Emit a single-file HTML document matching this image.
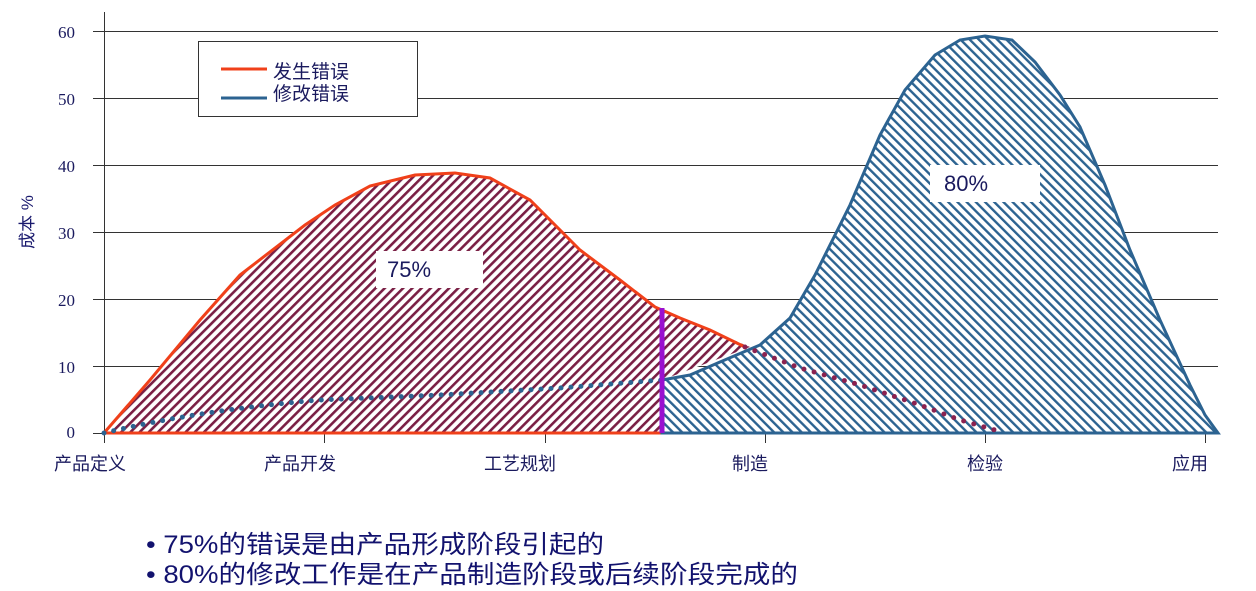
<!DOCTYPE html>
<html><head><meta charset="utf-8"><style>
html,body{margin:0;padding:0;background:#fff;width:1256px;height:591px;overflow:hidden}
text{font-family:"Liberation Sans","Noto Sans CJK SC",sans-serif}
</style></head><body>
<svg width="1256" height="591" viewBox="0 0 1256 591" xmlns="http://www.w3.org/2000/svg">
<defs>
<pattern id="hr" patternUnits="userSpaceOnUse" width="6.5" height="6.5" patternTransform="rotate(45)">
<rect width="6.5" height="6.5" fill="#fff"/><rect width="2.6" height="6.5" fill="#7a1f45"/></pattern>
<pattern id="hb" patternUnits="userSpaceOnUse" width="6.5" height="6.5" patternTransform="rotate(-45)">
<rect width="6.5" height="6.5" fill="#fff"/><rect width="2.4" height="6.5" fill="#2c6391"/></pattern>
</defs>
<g stroke="#333" stroke-width="1">
<line x1="93" y1="31.5" x2="1218" y2="31.5"/><line x1="93" y1="98.5" x2="1218" y2="98.5"/>
<line x1="93" y1="165.5" x2="1218" y2="165.5"/><line x1="93" y1="232.5" x2="1218" y2="232.5"/>
<line x1="93" y1="299.5" x2="1218" y2="299.5"/><line x1="93" y1="366.5" x2="1218" y2="366.5"/>
<line x1="93" y1="433.5" x2="1218" y2="433.5"/>
<line x1="104.5" y1="12" x2="104.5" y2="443"/>
<line x1="324.5" y1="433" x2="324.5" y2="443"/><line x1="545.5" y1="433" x2="545.5" y2="443"/>
<line x1="765.5" y1="433" x2="765.5" y2="443"/><line x1="985.5" y1="433" x2="985.5" y2="443"/><line x1="1205.5" y1="433" x2="1205.5" y2="443"/>
</g>
<g font-size="17" fill="#1a1a5e" text-anchor="end">
<text x="75" y="38" style="font-family:'Liberation Serif',serif">60</text><text x="75" y="105" style="font-family:'Liberation Serif',serif">50</text>
<text x="75" y="172" style="font-family:'Liberation Serif',serif">40</text><text x="75" y="239" style="font-family:'Liberation Serif',serif">30</text>
<text x="75" y="306" style="font-family:'Liberation Serif',serif">20</text><text x="75" y="373" style="font-family:'Liberation Serif',serif">10</text>
<text x="75" y="438" style="font-family:'Liberation Serif',serif">0</text>
</g>
<text transform="translate(33,222) rotate(-90)" text-anchor="middle" font-size="17" fill="#1a1a6e">成本 %</text>
<g font-size="18" fill="#1a1a5e" text-anchor="middle">
<text x="90" y="470">产品定义</text><text x="300" y="470">产品开发</text><text x="520" y="470">工艺规划</text>
<text x="750" y="470">制造</text><text x="985" y="470">检验</text><text x="1190" y="470">应用</text>
</g>
<path d="M104,433 L150,380 L200,320 L240,275 Q275,248 305,225 L335,205 L370,186 L415,175 L455,173 L490,178 L530,200 L580,250 L620,280 L655,307 L680,318 L710,330 L750,347 L662,380 L662,433 Z" fill="url(#hr)"/>
<path d="M104,433 L150,380 L200,320 L240,275 Q275,248 305,225 L335,205 L370,186 L415,175 L455,173 L490,178 L530,200 L580,250 L620,280 L655,307 L680,318 L710,330 L745,347" fill="none" stroke="#f0401a" stroke-width="3"/>
<line x1="104" y1="433" x2="662" y2="433" stroke="#f0401a" stroke-width="3"/>
<path d="M662,380 L690,375 L720,362 L760,345 L790,318 L815,275 L850,205 L880,135 L905,90 L935,55 L960,40 L985,36 L1012,40 L1035,62 L1060,95 L1080,127 L1105,185 L1130,250 L1160,320 L1190,385 L1205,415 L1218,433 L662,433 Z" fill="url(#hb)" stroke="#2c6391" stroke-width="3"/>
<path d="M104,433 Q200,410 320,400 L440,395 L560,388 L662,380" fill="none" stroke="#2c6391" stroke-width="5" stroke-linecap="round" stroke-dasharray="0 10"/>
<path d="M745,347 L800,368 L860,385 L920,405 L960,420 L995,430" fill="none" stroke="#8a2250" stroke-width="5" stroke-linecap="round" stroke-dasharray="0 10.5"/>
<line x1="662" y1="308" x2="662" y2="433" stroke="#9a10d0" stroke-width="5"/>
<rect x="376" y="251" width="107" height="37" fill="#fff"/>
<text x="387" y="277" font-size="22" fill="#1a1a5e">75%</text>
<rect x="930" y="165" width="110" height="37" fill="#fff"/>
<text x="944" y="191" font-size="22" fill="#1a1a5e">80%</text>
<rect x="198.5" y="41.5" width="219" height="75" fill="#fff" stroke="#333" stroke-width="1"/>
<line x1="221" y1="69" x2="267" y2="69" stroke="#f0401a" stroke-width="3"/>
<line x1="221" y1="98" x2="267" y2="98" stroke="#2c6391" stroke-width="3"/>
<text x="273" y="78" font-size="19" fill="#1a1a5e">发生错误</text>
<text x="273" y="100" font-size="19" fill="#1a1a5e">修改错误</text>
<text x="146" y="553" font-size="25" fill="#12126e" textLength="458" lengthAdjust="spacingAndGlyphs">• 75%的错误是由产品形成阶段引起的</text>
<text x="146" y="583" font-size="25" fill="#12126e" textLength="652" lengthAdjust="spacingAndGlyphs">• 80%的修改工作是在产品制造阶段或后续阶段完成的</text>
</svg>
</body></html>
